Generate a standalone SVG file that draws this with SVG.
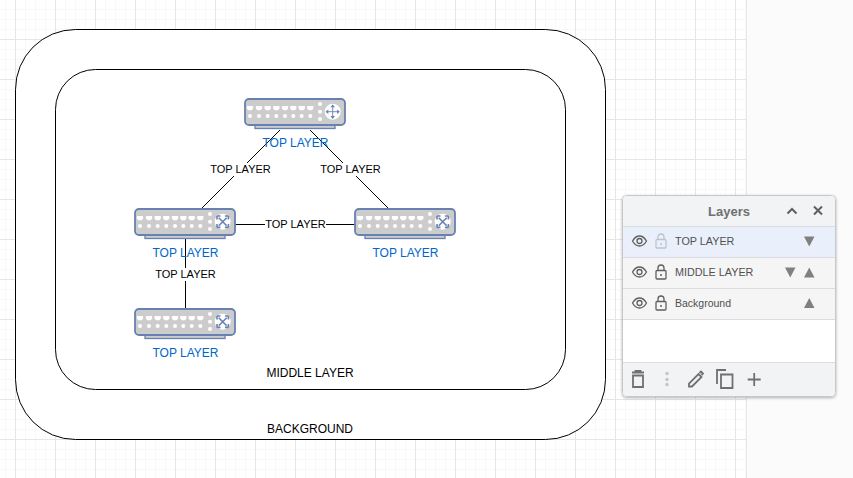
<svg xmlns="http://www.w3.org/2000/svg" width="853" height="478" viewBox="0 0 853 478">
<style>
text{font-family:"Liberation Sans",Arial,sans-serif;font-size:12px;text-anchor:middle;fill:#000}
.node-label{fill:#0066cc}
.edge-label{font-size:11px}
.edge{stroke:#000;stroke-width:1;fill:none}
.edge-bg{fill:#fff}
.area{fill:#fff;stroke:#000;stroke-width:1}
.body{fill:#ccc;stroke:#6881b3;stroke-width:1.8}
.plate{fill:#ccc;stroke:#6881b3;stroke-width:1.3}
.port{fill:#fff}
.badge{fill:#fff}
.glyph{stroke:#6881b3;stroke-width:1.6;fill:none}
.row-text{font-size:10.800px;text-anchor:start;fill:#505050}
.sep{stroke:#dadce0;stroke-width:1}
.icon{fill:none;stroke:#5f5f5f;stroke-width:1.3}
.tri{fill:#808080}
.tool{fill:none;stroke:#707070;stroke-width:1.800}
</style>
<defs>
<pattern id="minor" width="10" height="10" patternUnits="userSpaceOnUse" x="5" y="-1">
<path d="M0.5 0V10M0 0.5H10" stroke="#f8f8f8" stroke-width="1" fill="none"/>
</pattern>
<pattern id="major" width="40" height="40" patternUnits="userSpaceOnUse" x="15" y="39">
<path d="M0.5 0V40M0 0.5H40" stroke="#e6e6e6" stroke-width="1" fill="none"/>
</pattern>
<filter id="shadow" x="-10%" y="-10%" width="120%" height="120%">
<feDropShadow dx="0" dy="1" stdDeviation="1.5" flood-color="#000" flood-opacity="0.3"/>
</filter>
<path id="jack" d="M0 0h6.200v2.600l-1.500 1.700h-3.200l-1.500-1.700z"/>
<g id="chassis">
<rect class="plate" x="10" y="25.500" width="80" height="4"/>
<rect class="body" x="0" y="0" width="100" height="26" rx="4"/>
<g class="port">
<use href="#jack" x="1.900" y="7"/><use href="#jack" x="10.900" y="7"/><use href="#jack" x="19.600" y="7"/><use href="#jack" x="28.200" y="7"/><use href="#jack" x="36.900" y="7"/><use href="#jack" x="45.200" y="7"/><use href="#jack" x="53.600" y="7"/><use href="#jack" x="62.200" y="7"/>
<circle cx="5" cy="17" r="2"/><circle cx="14" cy="17" r="2"/><circle cx="22.700" cy="17" r="2"/><circle cx="31.300" cy="17" r="2"/><circle cx="40" cy="17" r="2"/><circle cx="48.300" cy="17" r="2"/><circle cx="56.700" cy="17" r="2"/><circle cx="65.300" cy="17" r="2"/>
<circle cx="75" cy="5" r="2"/><circle cx="75" cy="12.700" r="2"/><circle cx="75" cy="20" r="2"/>
</g>
<circle class="badge" cx="87.700" cy="12.700" r="8"/>
</g>
<g id="switch-glyph" class="glyph">
<path d="M83.700 8.700L91.700 16.700M91.700 8.700L83.700 16.700M82 7h3.500M82 7v3.500M93.400 7h-3.500M93.400 7v3.500M82 18.400h3.500M82 18.400v-3.500M93.400 18.400h-3.500M93.400 18.400v-3.500"/>
</g>
<g id="router-glyph" class="glyph">
<path stroke-width="0.900" d="M82.500 12.700h10.400M87.700 7.500v10.400"/>
<path fill="#6881b3" stroke="none" d="M80.500 12.700l2.800-2.300v4.600zM94.900 12.700l-2.800-2.300v4.600zM87.700 5.500l-2.300 2.800h4.600zM87.700 19.900l-2.300-2.800h4.600z"/>
</g>
</defs>
<rect width="853" height="478" fill="#fff"/>
<g id="grid">
<rect width="746" height="478" fill="url(#minor)"/>
<rect width="746" height="478" fill="url(#major)"/>
<rect x="746" width="107" height="478" fill="#fbfbfb"/>
<path d="M746.500 0V478" stroke="#e8e8e8"/>
</g>
<g id="background-area">
<rect class="area" x="15.500" y="29.500" width="590" height="410" rx="60"/>
<text x="310" y="433">BACKGROUND</text>
</g>
<g id="middle-area">
<rect class="area" x="55.500" y="69.500" width="510" height="320" rx="40"/>
<text x="310" y="377">MIDDLE LAYER</text>
</g>
<g id="connectors">
<path class="edge" d="M280 130L201 209M310 130L389 209M235 224.500H355M185.500 239V309"/>
<rect class="edge-bg" x="210" y="163" width="61" height="13"/>
<text class="edge-label" x="240.500" y="173">TOP LAYER</text>
<rect class="edge-bg" x="320" y="163" width="61" height="13"/>
<text class="edge-label" x="350.500" y="173">TOP LAYER</text>
<rect class="edge-bg" x="265" y="218" width="61" height="13"/>
<text class="edge-label" x="295.500" y="228">TOP LAYER</text>
<rect class="edge-bg" x="155" y="268" width="61" height="13"/>
<text class="edge-label" x="185.500" y="278">TOP LAYER</text>
</g>
<g id="node-top">
<use href="#chassis" transform="translate(245 99)"/>
<use href="#router-glyph" transform="translate(245 99)"/>
<text class="node-label" x="295.500" y="147">TOP LAYER</text>
</g>
<g id="node-left">
<use href="#chassis" transform="translate(135 209)"/>
<use href="#switch-glyph" transform="translate(135 209)"/>
<text class="node-label" x="185.500" y="257">TOP LAYER</text>
</g>
<g id="node-right">
<use href="#chassis" transform="translate(355 209)"/>
<use href="#switch-glyph" transform="translate(355 209)"/>
<text class="node-label" x="405.500" y="257">TOP LAYER</text>
</g>
<g id="node-bottom">
<use href="#chassis" transform="translate(135 309)"/>
<use href="#switch-glyph" transform="translate(135 309)"/>
<text class="node-label" x="185.500" y="357">TOP LAYER</text>
</g>
<g id="layers-panel">
<rect x="622.500" y="195.500" width="213" height="201" rx="4" fill="#fff" stroke="#c8c8c8" filter="url(#shadow)"/>
<path d="M623 226V200q0-4 4-4H831q4 0 4 4V226z" fill="#f1f3f4"/>
<rect x="623" y="227" width="212" height="30" fill="#e9f0fb"/>
<rect x="623" y="258" width="212" height="30" fill="#f5f5f5"/>
<rect x="623" y="289" width="212" height="30" fill="#f5f5f5"/>
<path d="M623 363V392q0 4 4 4H831q4 0 4-4V363z" fill="#f1f3f4"/>
<path class="sep" d="M623 226.500H835M623 257.500H835M623 288.500H835M623 319.500H835M623 362.500H835"/>
<text x="729" y="216" style="font-size:13px;font-weight:700;fill:#707070">Layers</text>
<path d="M787.500 213.500L792 209L796.500 213.500" fill="none" stroke="#5f5f5f" stroke-width="2"/>
<path d="M814 206.500L822 214.500M822 206.500L814 214.500" fill="none" stroke="#5f5f5f" stroke-width="2"/>
<g id="row-top">
<path class="icon" d="M632.500 241c2-3.500 4.500-5 7-5s5 1.500 7 5c-2 3.500-4.500 5-7 5s-5-1.500-7-5z"/><circle class="icon" cx="639.500" cy="241" r="2.500"/>
<g opacity="0.3"><rect class="icon" x="656" y="239.500" width="10" height="8.500" rx="1"/><path class="icon" d="M658 239.500v-2.500a3 3 0 0 1 6 0v2.500"/><circle cx="661" cy="244" r="1" fill="#5f5f5f"/></g>
<text class="row-text" x="675" y="245">TOP LAYER</text>
<path class="tri" d="M804 236.500h10.500l-5.250 10z"/>
</g>
<g id="row-middle">
<path class="icon" d="M632.500 272c2-3.500 4.500-5 7-5s5 1.500 7 5c-2 3.500-4.500 5-7 5s-5-1.500-7-5z"/><circle class="icon" cx="639.500" cy="272" r="2.500"/>
<rect class="icon" x="656" y="270.500" width="10" height="8.500" rx="1"/><path class="icon" d="M658 270.500v-2.500a3 3 0 0 1 6 0v2.500"/><circle cx="661" cy="275" r="1" fill="#5f5f5f"/>
<text class="row-text" x="675" y="276">MIDDLE LAYER</text>
<path class="tri" d="M785 267.500h10.500l-5.250 10z"/>
<path class="tri" d="M804 277.500h10.500l-5.250-10z"/>
</g>
<g id="row-background">
<path class="icon" d="M632.500 303c2-3.500 4.500-5 7-5s5 1.500 7 5c-2 3.500-4.500 5-7 5s-5-1.500-7-5z"/><circle class="icon" cx="639.500" cy="303" r="2.500"/>
<rect class="icon" x="656" y="301.500" width="10" height="8.500" rx="1"/><path class="icon" d="M658 301.500v-2.500a3 3 0 0 1 6 0v2.500"/><circle cx="661" cy="306" r="1" fill="#5f5f5f"/>
<text class="row-text" x="675" y="307" style="font-size:10.500px">Background</text>
<path class="tri" d="M804 308h10.500l-5.250-10z"/>
</g>
<g id="toolbar">
<path class="tool" d="M632 372.500H644M635.500 372.500v-1.500h5v1.500M633 375.500H643V387H633z"/>
<circle cx="667" cy="373.500" r="1.700" fill="#c4c4c4"/><circle cx="667" cy="379.500" r="1.700" fill="#c4c4c4"/><circle cx="667" cy="384.500" r="1.700" fill="#c4c4c4"/>
<path class="tool" d="M689 386.500v-3l9.500-9.500 3 3-9.500 9.500zM699.500 373l1.500-1.500 2 2-1.500 1.500"/>
<path class="tool" d="M726 370H717V384M721 374.500H732.500V388H721z"/>
<path class="tool" d="M747.700 379.500H760.700M754.200 373V386"/>
</g>
</g>
</svg>
